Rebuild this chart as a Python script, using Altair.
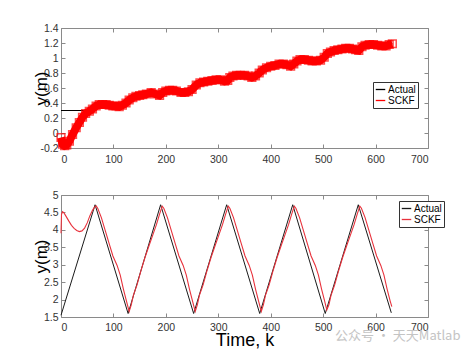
import altair as alt
import pandas as pd

# ---------------- top panel data ----------------
top_k_est = [0, 3, 7, 11, 16, 22, 29, 35, 41, 47, 54, 60, 67, 73, 79, 86, 92, 99, 105, 111,
             117, 124, 130, 137, 143, 150, 156, 163, 172, 180, 188, 194, 200, 207, 213, 220,
             229, 236, 243, 250, 258, 265, 272, 280, 288, 296, 304, 312, 318, 322, 328, 335,
             342, 350, 357, 364, 371, 378, 384, 392, 400, 408, 416, 424, 431, 438, 444, 450,
             456, 464, 472, 479, 487, 495, 502, 508, 514, 521, 528, 536, 543, 550, 556, 562,
             568, 574, 580, 588, 596, 604, 612, 620, 626, 632]
top_y_est = [-0.06, -0.15, -0.17, -0.16, -0.11, -0.02, 0.07, 0.14, 0.21, 0.26, 0.29, 0.32,
             0.36, 0.38, 0.38, 0.38, 0.37, 0.36, 0.36, 0.35, 0.37, 0.40, 0.44, 0.47, 0.49,
             0.50, 0.51, 0.52, 0.54, 0.52, 0.50, 0.54, 0.56, 0.57, 0.57, 0.56, 0.54, 0.54,
             0.55, 0.58, 0.64, 0.67, 0.68, 0.69, 0.70, 0.71, 0.71, 0.69, 0.70, 0.74, 0.76,
             0.77, 0.77, 0.77, 0.76, 0.74, 0.76, 0.80, 0.84, 0.87, 0.89, 0.90, 0.92, 0.92,
             0.91, 0.89, 0.92, 0.96, 0.98, 0.98, 0.97, 0.96, 0.96, 0.97, 1.01, 1.06, 1.08,
             1.10, 1.11, 1.12, 1.13, 1.13, 1.12, 1.11, 1.10, 1.15, 1.17, 1.18, 1.18, 1.17,
             1.16, 1.16, 1.18, 1.19]
top_k_act = [0, 55] + top_k_est[11:]
top_y_act = [0.30, 0.30] + top_y_est[11:]

# ---------------- bottom panel data ----------------
bot_k_act = [0, 65, 128, 190, 253, 316, 379, 442, 504, 567, 630]
bot_y_act = [1.55, 4.72, 1.60, 4.72, 1.60, 4.72, 1.60, 4.72, 1.60, 4.72, 1.62]

bot_k_est = [0, 1, 3, 6, 10, 15, 20, 25, 30, 35, 40, 45, 50, 55, 60, 64, 67,
             70, 77, 84, 92, 99, 107, 113, 119, 125, 130,
             134, 138, 145, 152, 160, 168, 175, 182, 188, 193,
             196, 203, 210, 218, 225, 233, 239, 245, 251, 256,
             260, 264, 271, 278, 286, 294, 301, 308, 314, 319,
             322, 329, 336, 344, 351, 359, 365, 371, 377, 382,
             386, 390, 397, 404, 412, 420, 427, 434, 440, 445,
             448, 455, 462, 470, 477, 485, 491, 497, 503, 507,
             511, 515, 522, 529, 537, 545, 552, 559, 565, 570,
             573, 580, 587, 595, 602, 610, 616, 622, 628, 631]
bot_y_est = [3.90, 4.45, 4.52, 4.48, 4.38, 4.25, 4.13, 4.04, 3.98, 3.95, 3.97, 4.05, 4.20,
             4.40, 4.56, 4.65, 4.69,
             4.62, 4.35, 4.00, 3.60, 3.25, 2.98, 2.70, 2.30, 1.95, 1.66,
             1.85, 2.12, 2.42, 2.80, 3.20, 3.55, 3.85, 4.15, 4.45, 4.68,
             4.62, 4.35, 4.00, 3.60, 3.25, 2.98, 2.70, 2.30, 1.95, 1.66,
             1.85, 2.12, 2.42, 2.80, 3.20, 3.55, 3.85, 4.15, 4.45, 4.68,
             4.62, 4.35, 4.00, 3.60, 3.25, 2.98, 2.70, 2.30, 1.95, 1.66,
             1.85, 2.12, 2.42, 2.80, 3.20, 3.55, 3.85, 4.15, 4.45, 4.68,
             4.62, 4.35, 4.00, 3.60, 3.25, 2.98, 2.70, 2.30, 1.95, 1.70,
             1.85, 2.12, 2.42, 2.80, 3.20, 3.55, 3.85, 4.15, 4.45, 4.68,
             4.62, 4.35, 4.00, 3.60, 3.25, 2.98, 2.70, 2.30, 1.95, 1.80]

x_ticks = [0, 100, 200, 300, 400, 500, 600, 700]
top_y_ticks = [-0.2, 0, 0.2, 0.4, 0.6, 0.8, 1, 1.2, 1.4]
bot_y_ticks = [1.5, 2, 2.5, 3, 3.5, 4, 4.5, 5]
series = ["Actual", "SCKF"]
watermark = "公众号 · 天天Matlab"

FRAME = "#8a8a8a"
LABEL = "#333333"
MINUS_FIX = "replace(datum.label, '\u2212', '-')"

top_act_df = pd.DataFrame({"k1": top_k_act, "y1": top_y_act, "s1": series[0]})
top_est_df = pd.DataFrame({"k1": top_k_est, "y1": top_y_est, "s1": series[1]})
bot_act_df = pd.DataFrame({"k2": bot_k_act, "y2": bot_y_act, "s2": series[0]})
bot_est_df = pd.DataFrame({"k2": bot_k_est, "y2": bot_y_est, "s2": series[1]})
wm_df = pd.DataFrame({"t": [watermark]})


def ax(orient, values, labels=True, label_pad=3, title=None, fmt="~g", **kw):
    args = dict(orient=orient, values=values, offset=-4, tickSize=4, domain=False,
                grid=False, tickColor=FRAME, labels=labels, labelPadding=label_pad,
                labelFontSize=10.5, labelColor=LABEL, format=fmt, labelExpr=MINUS_FIX,
                title=title)
    args.update(kw)
    return alt.Axis(**args)


def legend(x, y):
    return alt.Legend(title=None, orient="none", legendX=x, legendY=y, symbolType="stroke",
                      symbolSize=90, symbolStrokeWidth=1.3, labelFontSize=10,
                      labelColor="black", labelOffset=2, rowPadding=0, padding=2,
                      strokeColor="#333333", fillColor="white")


# ---------------- top panel ----------------
xs1 = alt.Scale(domain=[0, 700], nice=False, zero=False)
ys1 = alt.Scale(domain=[-0.2, 1.4], nice=False, zero=False)
cs1 = alt.Scale(domain=series, range=["black", "red"])

top_black = alt.Chart(top_act_df).mark_line(strokeWidth=1).encode(
    x=alt.X("k1:Q", scale=xs1, axis=ax("bottom", x_ticks, label_pad=6, fmt="d")),
    y=alt.Y("y1:Q", scale=ys1, axis=ax("left", top_y_ticks, title="y(m)",
                                      titleFontSize=17, titleFontWeight="normal",
                                      titleColor="black", titleX=-24, titleY=60,
                                      titleBaseline="middle", titleAngle=270)),
    color=alt.Color("s1:N", scale=cs1, legend=legend(312, 54)),
)
top_red = alt.Chart(top_est_df).mark_line(strokeWidth=8).encode(
    x=alt.X("k1:Q", scale=xs1, axis=ax("top", x_ticks, labels=False)),
    y=alt.Y("y1:Q", scale=ys1, axis=ax("right", top_y_ticks, labels=False)),
    color=alt.Color("s1:N", scale=cs1, legend=legend(312, 54)),
)
top_pts = alt.Chart(top_est_df).mark_point(shape="square", size=60, filled=False,
                                           strokeWidth=1.5).encode(
    x=alt.X("k1:Q", scale=xs1, axis=None),
    y=alt.Y("y1:Q", scale=ys1, axis=None),
    color=alt.Color("s1:N", scale=cs1, legend=None),
)
top = alt.layer(top_black, top_red, top_pts).resolve_axis(
    x="independent", y="independent").properties(width=367, height=120)

# ---------------- bottom panel ----------------
xs2 = alt.Scale(domain=[0, 700], nice=False, zero=False)
ys2 = alt.Scale(domain=[1.5, 5], nice=False, zero=False)
cs2 = alt.Scale(domain=series, range=["#1a1a1a", "#e8323c"])

bot_black = alt.Chart(bot_act_df).mark_line(strokeWidth=1).encode(
    x=alt.X("k2:Q", scale=xs2, axis=ax("bottom", x_ticks, label_pad=5, fmt="d",
                                      title="Time, k",
                                      titleFontSize=18, titleFontWeight="normal",
                                      titleColor="black", titleY=32,
                                      titleBaseline="alphabetic")),
    y=alt.Y("y2:Q", scale=ys2, axis=ax("left", bot_y_ticks, title="y(m)",
                                      titleFontSize=17, titleFontWeight="normal",
                                      titleColor="black", titleX=-24, titleY=61,
                                      titleBaseline="middle", titleAngle=270)),
    color=alt.Color("s2:N", scale=cs2, legend=legend(338, 6)),
)
bot_red = alt.Chart(bot_est_df).mark_line(strokeWidth=1.1).encode(
    x=alt.X("k2:Q", scale=xs2, axis=ax("top", x_ticks, labels=False)),
    y=alt.Y("y2:Q", scale=ys2, axis=ax("right", bot_y_ticks, labels=False)),
    color=alt.Color("s2:N", scale=cs2, legend=legend(338, 6)),
)
wm = alt.Chart(wm_df).mark_text(align="left", baseline="middle", fontSize=13,
                                color="#c4c4c4", font="Noto Sans CJK SC").encode(
    x=alt.value(274), y=alt.value(141), text="t:N")
bot = alt.layer(bot_black, bot_red, wm).resolve_axis(
    x="independent", y="independent").properties(width=367, height=122)

chart = alt.vconcat(top, bot, spacing=47, bounds="flush").resolve_scale(
    x="independent", y="independent", color="independent"
).properties(
    padding={"left": 23, "top": 14, "right": 0, "bottom": 0}
).configure(font="Liberation Sans").configure_view(stroke=FRAME, strokeWidth=1)

chart.save("out.html", embed_options={"renderer": "svg", "actions": False})
